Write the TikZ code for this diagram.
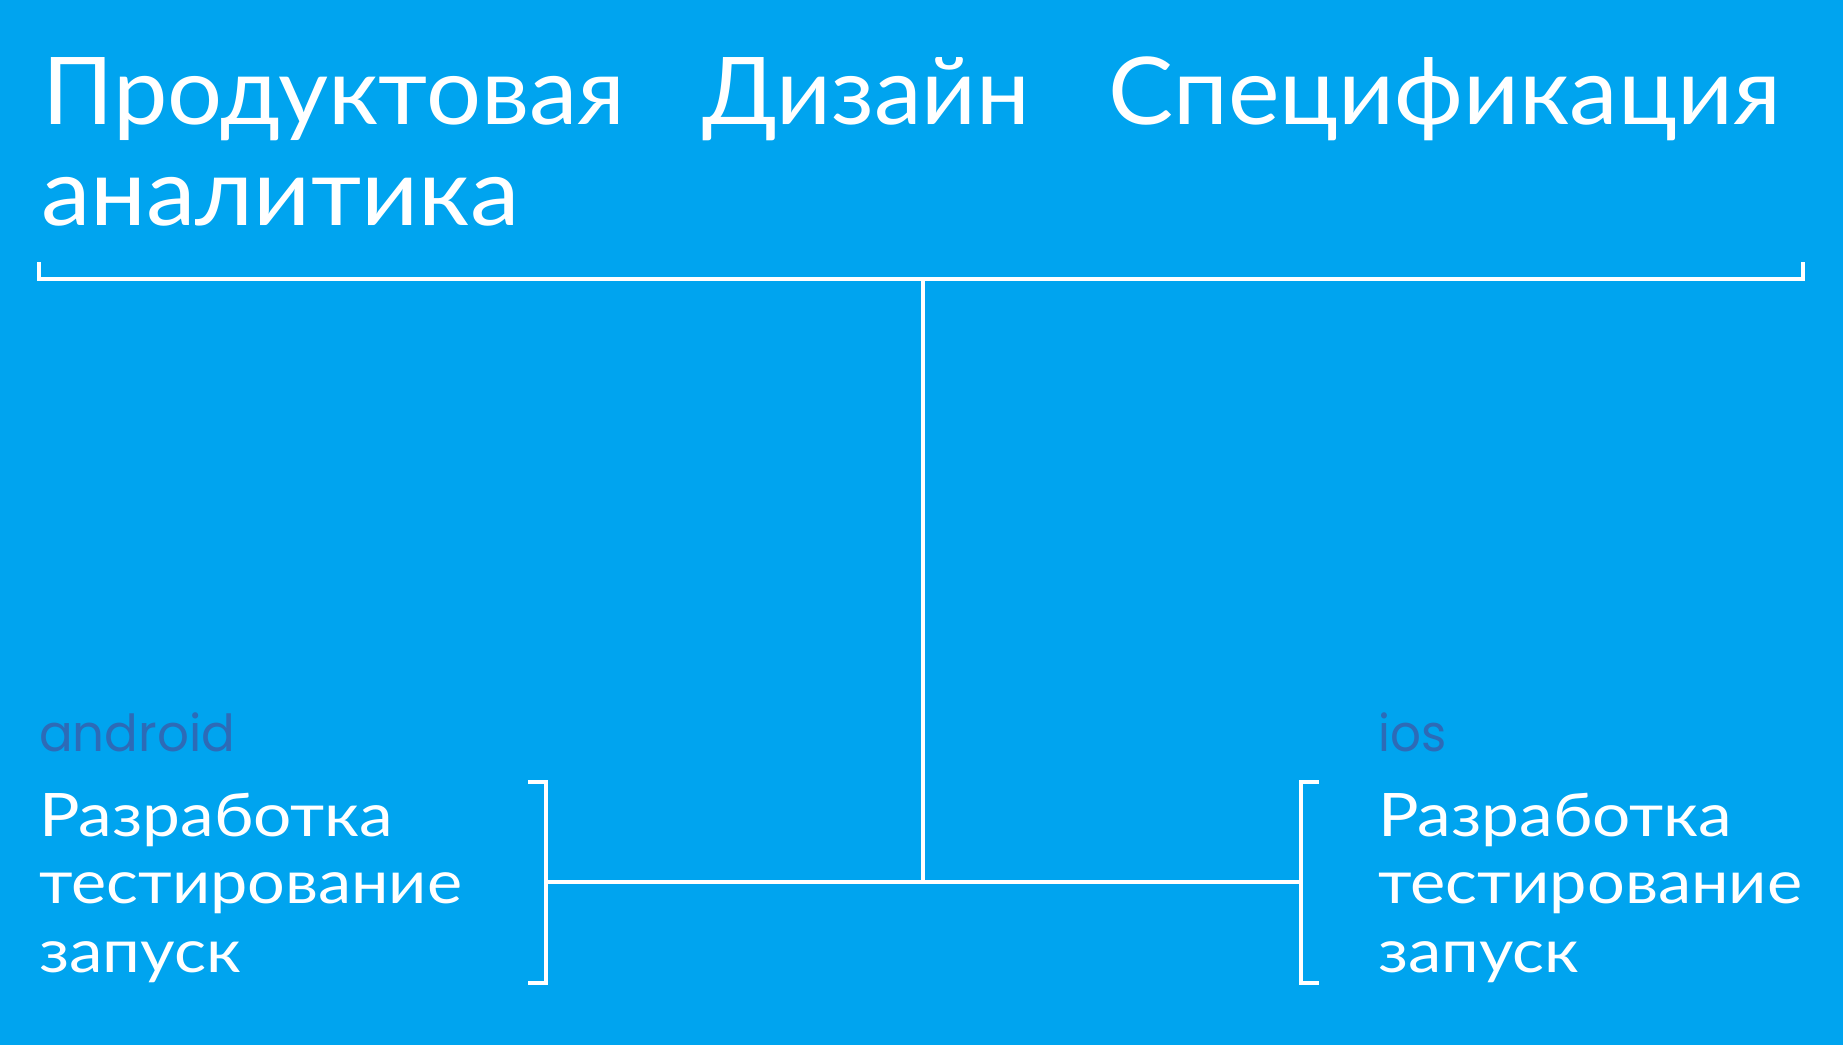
\documentclass[tikz,border=0pt]{standalone}
\usepackage{fontspec}
\usepackage{graphicx}
\setmainfont{Lato}
\newfontfamily\latinlbl{Poppins}
\definecolor{bgblue}{HTML}{00A4EF}
\definecolor{lblblue}{HTML}{2D6BB7}
\newsavebox\fitbox
\newcommand\fitw[2]{\sbox\fitbox{#2}\scalebox{\fpeval{(#1)/(\the\wd\fitbox)}}[1]{\usebox\fitbox}}
\tikzset{
  lineW/.style={draw=white, line width=4pt},
  titletxt/.style={anchor=base west, inner sep=0pt, text=white, font=\fontsize{93.5}{100}\selectfont},
  bodytxt/.style={anchor=base west, inner sep=0pt, text=white, font=\fontsize{60}{68}\selectfont},
  lbltxt/.style={anchor=base west, inner sep=0pt, text=lblblue, font=\latinlbl\fontsize{51}{60}\selectfont}
}
\begin{document}
\begin{tikzpicture}[x=1pt,y=-1pt]
\useasboundingbox (0,0) rectangle (1843,1045);
\fill[bgblue] (0,0) rectangle (1843,1045);
% title
\node[titletxt] (w1) at (42,124) {\fitw{583}{Продуктовая}};
\node[titletxt] (w2) at (702,124) {\fitw{328}{Дизайн}};
\node[titletxt] (w3) at (1108,124) {\fitw{673}{Спецификация}};
\node[titletxt] (w4) at (41,225) {\fitw{478}{аналитика}};
% coordinates
\coordinate (tl) at (39,262);
\coordinate (tlb) at (39,279);
\coordinate (trb) at (1803,279);
\coordinate (tr) at (1803,262);
\coordinate (ctop) at (923,279);
\coordinate (cbot) at (923,882);
\coordinate (lb) at (546,882);
\coordinate (rb) at (1301,882);
\coordinate (lbt) at (546,782);
\coordinate (lbb) at (546,983);
\coordinate (lbtt) at (528,782);
\coordinate (lbbt) at (528,983);
\coordinate (rbt) at (1301,782);
\coordinate (rbb) at (1301,983);
\coordinate (rbtt) at (1319,782);
\coordinate (rbbt) at (1319,983);
% lines
\draw[lineW] (tl) -- (tlb) -- (trb) -- (tr);
\draw[lineW] (ctop) -- (cbot);
\draw[lineW] (lb) -- (rb);
\draw[lineW] (lbtt) -- (lbt) -- (lbb) -- (lbbt);
\draw[lineW] (rbtt) -- (rbt) -- (rbb) -- (rbbt);
% left texts
\node[lbltxt] (and) at (39,751) {\fitw{196}{android}};
\node[bodytxt] (l1) at (39,836) {\fitw{354}{Разработка}};
\node[bodytxt] (l2) at (39,903) {\fitw{423}{тестирование}};
\node[bodytxt] (l3) at (39,972) {\fitw{202}{запуск}};
% right texts
\node[lbltxt] (ios) at (1378,751) {\fitw{68}{ios}};
\node[bodytxt] (r1) at (1378,836) {\fitw{354}{Разработка}};
\node[bodytxt] (r2) at (1378,903) {\fitw{424}{тестирование}};
\node[bodytxt] (r3) at (1378,972) {\fitw{201}{запуск}};
\end{tikzpicture}
\end{document}
